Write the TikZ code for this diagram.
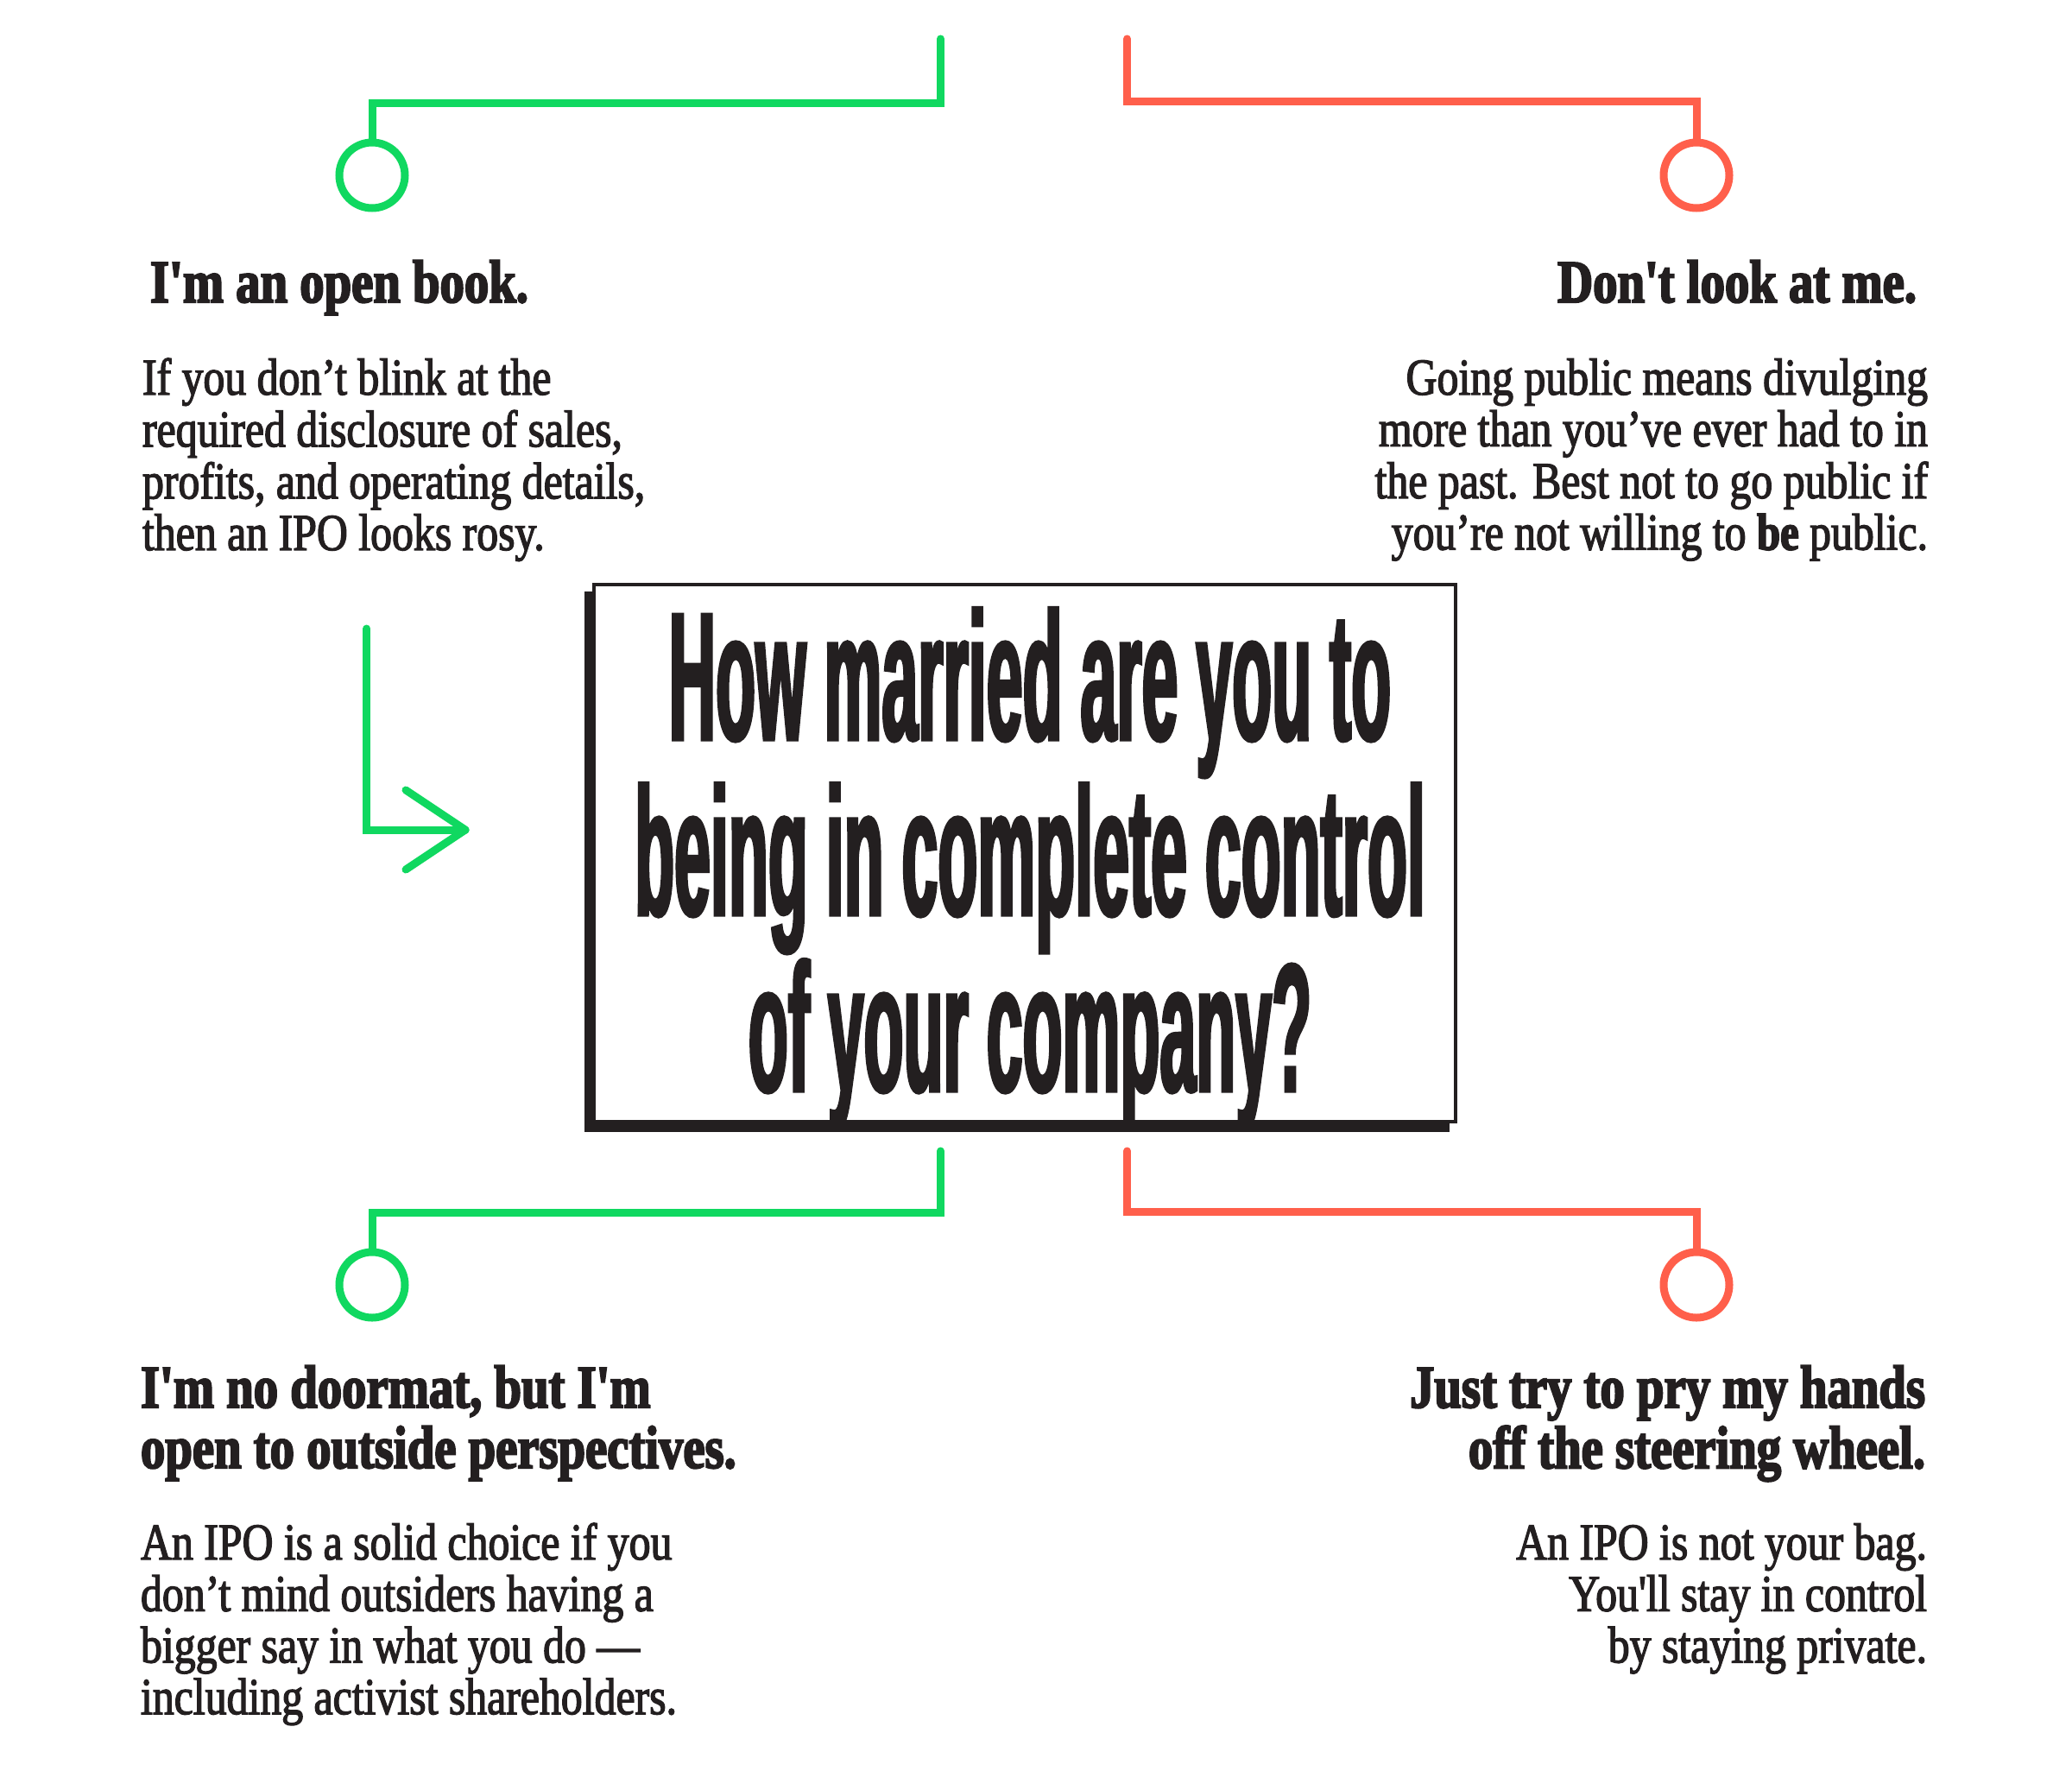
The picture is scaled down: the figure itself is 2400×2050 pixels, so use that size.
\documentclass[tikz,border=0pt]{standalone}
\usepackage{fontspec}
\newfontfamily\mybodyfont{Liberation Serif}[FakeStretch=0.83, FakeBold=2.2, Ligatures=TeXOff]
\newfontfamily\myheadfont{Liberation Serif}[FakeStretch=0.81, FakeBold=3, Ligatures=TeXOff]
\newfontfamily\mytitlefont{Liberation Sans}[FakeStretch=0.355, FakeBold=1.5, Ligatures=TeXOff]
\newcommand\mybodyf{\mybodyfont\fontsize{60}{59.7}\selectfont}
\newcommand\myheadf{\myheadfont\bfseries\fontsize{70}{70}\selectfont}
\newcommand\mytitlef{\mytitlefont\bfseries\fontsize{212}{200}\selectfont}
\definecolor{ink}{HTML}{231F20}
\definecolor{gr}{HTML}{10D860}
\definecolor{rd}{HTML}{FF5F4B}
\begin{document}
\begin{tikzpicture}[x=1pt,y=-1pt,
  conn/.style={line width=9pt, line cap=round, line join=miter},
  ring/.style={circle, draw=#1, line width=9pt, minimum size=76pt, inner sep=0pt},
  txt/.style={inner sep=0pt, outer sep=0pt, text=ink},
  qtxt/.style={txt, anchor=base, font=\mytitlef}]
\useasboundingbox (0,0) rectangle (2400,2050);
\fill[white] (0,0) rectangle (2400,2050);

% rings
\node[ring=gr] (c1) at (431,203) {};
\node[ring=rd] (c2) at (1965,203) {};
\node[ring=gr] (c3) at (431,1488) {};
\node[ring=rd] (c4) at (1965,1488) {};

% connectors
\coordinate (g1top) at (1089.5,45);
\coordinate (g1bend) at (1089.5,119.5);
\draw[conn, draw=gr] (g1top) -- (g1bend) -| (c1.north);
\coordinate (r1top) at (1305.5,45);
\coordinate (r1bend) at (1305.5,117);
\draw[conn, draw=rd] (r1top) -- (r1bend) -| (c2.north);
\coordinate (g2top) at (1089.5,1333);
\coordinate (g2bend) at (1089.5,1404);
\draw[conn, draw=gr] (g2top) -- (g2bend) -| (c3.north);
\coordinate (r2top) at (1305.5,1333);
\coordinate (r2bend) at (1305.5,1403);
\draw[conn, draw=rd] (r2top) -- (r2bend) -| (c4.north);

% arrow
\coordinate (a0) at (424.7,728);
\coordinate (a1) at (424.7,961);
\coordinate (atip) at (539,961);
\coordinate (aw1) at (470,915);
\coordinate (aw2) at (470,1007);
\draw[conn, draw=gr] (a0) -- (a1) -- (atip);
\draw[conn, draw=gr, line join=round] (aw1) -- (atip) -- (aw2);

% question box
\fill[ink] (677,685) rectangle (1679,1311);
\node[draw=ink, fill=white, line width=4pt, minimum width=998pt, minimum height=622pt, inner sep=0pt] (qbox) at (1187,988) {};
\node[qtxt] (q1) at (1193,857) {How married are you to};
\node[qtxt] (q2) at (1193,1060) {being in complete control};
\node[qtxt] (q3) at (1193,1264) {of your company?};

% top left
\node[txt, anchor=base west] (tlh) at (174,350) {\myheadf I'm an open book.};
\node[txt, anchor=base west] (tlb) at (165,457) {\mybodyf\begin{tabular}[t]{@{}l@{}}If you don’t blink at the\\ required disclosure of sales,\\ profits, and operating details,\\ then an IPO looks rosy.\end{tabular}};

% top right
\node[txt, anchor=base east] (trh) at (2220,350) {\myheadf Don't look at me.};
\node[txt, anchor=base east] (trb) at (2233,457) {\mybodyf\begin{tabular}[t]{@{}r@{}}Going public means divulging\\ more than you’ve ever had to in\\ the past. Best not to go public if\\ you’re not willing to {\myheadfont\bfseries be} public.\end{tabular}};

% bottom left
\node[txt, anchor=base west] (blh) at (163,1630) {\myheadf\begin{tabular}[t]{@{}l@{}}I'm no doormat, but I'm\\ open to outside perspectives.\end{tabular}};
\node[txt, anchor=base west] (blb) at (163,1806) {\mybodyf\begin{tabular}[t]{@{}l@{}}An IPO is a solid choice if you\\ don’t mind outsiders having a\\ bigger say in what you do —\\ including activist shareholders.\end{tabular}};

% bottom right
\node[txt, anchor=base east] (brh) at (2230,1630) {\myheadf\begin{tabular}[t]{@{}r@{}}Just try to pry my hands\\ off the steering wheel.\end{tabular}};
\node[txt, anchor=base east] (brb) at (2232,1806) {\mybodyf\begin{tabular}[t]{@{}r@{}}An IPO is not your bag.\\ You'll stay in control\\ by staying private.\end{tabular}};
\end{tikzpicture}
\end{document}
